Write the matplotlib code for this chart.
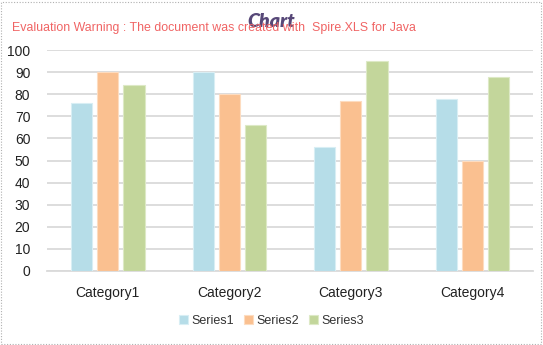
import matplotlib
matplotlib.use("Agg")
import matplotlib.pyplot as plt
from matplotlib.patches import Rectangle
import numpy as np

categories = ["Category1", "Category2", "Category3", "Category4"]
series_names = ["Series1", "Series2", "Series3"]
series1 = [76, 90, 56, 78]
series2 = [90, 80, 77, 50]
series3 = [84, 66, 95, 88]
y_ticks = [0, 10, 20, 30, 40, 50, 60, 70, 80, 90, 100]

colors = ["#b6dde8", "#fac090", "#c3d69b"]
edge_colors = ["#d8eef4", "#fddcc0", "#dde9c6"]

plt.rcParams["font.family"] = ["Liberation Sans", "DejaVu Sans"]

fig = plt.figure(figsize=(5.43, 3.45), dpi=100)
fig.patch.set_facecolor("white")
fig.patches.append(Rectangle((0.002, 0.003), 0.994, 0.992, transform=fig.transFigure,
                             fill=False, edgecolor="#b0b0b0", linestyle=(0, (1, 1.5)),
                             linewidth=0.8))

ax = fig.add_axes([0.0866, 0.2145, 0.895, 0.6405])
x = np.arange(len(categories))
width = 0.175
step = 0.215
for i, vals in enumerate([series1, series2, series3]):
    ax.bar(x + (i - 1) * step, vals, width, color=colors[i], edgecolor=edge_colors[i],
           linewidth=0.8, label=series_names[i], zorder=3)

ax.set_xlim(-0.5, len(categories) - 0.5)
ax.set_ylim(0, 100)
ax.set_yticks(y_ticks)
ax.set_xticks(x)
ax.set_xticklabels(categories)
ax.grid(axis="y", color="#dadada", linewidth=1.3, zorder=0)
for s in ["top", "right", "left"]:
    ax.spines[s].set_visible(False)
ax.spines["bottom"].set_color("#dadada")
ax.spines["bottom"].set_linewidth(1.3)
ax.tick_params(axis="both", length=0, labelsize=10, colors="#222222")
ax.tick_params(axis="y", pad=12)
ax.tick_params(axis="x", pad=11)

fig.text(0.5, 0.937, "Chart", ha="center", va="center", fontsize=14,
         fontweight="heavy", fontstyle="italic", color="#574878", family="Lato")
fig.text(0.022, 0.92, "Evaluation Warning : The document was created with  Spire.XLS for Java",
         ha="left", va="center", fontsize=8.9, color="#f06464")

leg = fig.legend(loc="center", bbox_to_anchor=(0.5, 0.07), ncol=3, frameon=False,
                 fontsize=9, handlelength=0.7, handleheight=0.7, handletextpad=0.3,
                 columnspacing=0.8)
for t in leg.get_texts():
    t.set_color("#333333")

fig.savefig("out.png", dpi=100)
